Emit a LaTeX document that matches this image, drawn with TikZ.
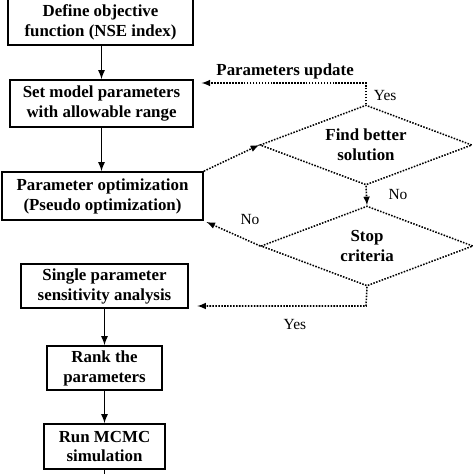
\documentclass[tikz,border=0pt]{standalone}
\usepackage{fontspec}
\setmainfont{Liberation Serif}
\usetikzlibrary{shapes.geometric}
\usetikzlibrary{calc}

\begin{document}
\begin{tikzpicture}[>=latex, x=0.025cm, y=-0.025cm,
  stepbox/.style={draw, line width=1.2pt, align=center, inner sep=0pt,
    font=\bfseries\fontsize{12}{14.2}\selectfont},
  choice/.style={diamond, aspect=2.65, draw, densely dotted, line width=1.1pt, align=center,
    inner sep=0pt, minimum width=5.3cm, minimum height=2cm,
    font=\bfseries\fontsize{12}{14.2}\selectfont},
  flow/.style={->, line width=1.2pt},
  loopback/.style={->, densely dotted, line width=1.1pt},
  lbl/.style={font=\fontsize{11}{13}\selectfont}]

\useasboundingbox (0,0) rectangle (474,474);

% main column
\node[stepbox, minimum width=4.625cm, minimum height=1.15cm] (objfun) at (100.5,22)
  {Define objective\\function (NSE index)};
\node[stepbox, minimum width=4.575cm, minimum height=1.175cm] (setpar) at (101.5,103.5)
  {Set model parameters\\with allowable range};
\node[stepbox, minimum width=5.025cm, minimum height=1.2cm] (optim) at (102.5,196)
  {Parameter optimization\\(Pseudo optimization)};
\node[stepbox, minimum width=4.175cm, minimum height=1.1cm] (sens) at (104.5,286)
  {Single parameter\\sensitivity analysis};
\node[stepbox, minimum width=2.875cm, minimum height=1.1cm] (rank) at (104.5,368)
  {Rank the\\parameters};
\node[stepbox, minimum width=3.025cm, minimum height=1.125cm] (mcmc) at (104.5,446.5)
  {Run MCMC\\simulation};
\coordinate (cont) at (104.5,490);

\draw[flow] (objfun.south -| setpar.north) -- (setpar.north);
\draw[flow] (setpar) -- (optim.north -| setpar.south);
\draw[flow] (sens) -- (rank);
\draw[flow] (rank) -- (mcmc);
\draw[line width=1.2pt] (mcmc) -- (cont);

% decisions
\node[choice] (better) at (366,145) {Find better\\solution};
\node[choice] (stopc) at (367,246) {Stop\\criteria};

% parameters update loop
\coordinate (upd) at (366,83);
\draw[loopback, shorten >=5\pgflinewidth] (better.north) -- (upd) -- (upd -| setpar.east)
  node[pos=0.47, above=-1pt, font=\bfseries\fontsize{12}{14}\selectfont] {Parameters update};
\node[lbl, anchor=west] (yesup) at (369,96) {Yes};

\draw[loopback] (optim.north east) -- (better.west);
\draw[loopback] (better.south) -- (stopc.north);
\node[lbl] (nobetter) at (398,195) {No};

\draw[loopback, shorten >=2pt] (stopc.west) -- (optim.south east);
\node[lbl] (nostop) at (250,220) {No};

% stop criteria reached
\coordinate (yesc) at (366,306);
\draw[loopback, shorten >=6pt] (stopc.south) -- (yesc) -- (yesc -| sens.east);
\node[lbl] (yesstop) at (295,325) {Yes};

\end{tikzpicture}
\end{document}
